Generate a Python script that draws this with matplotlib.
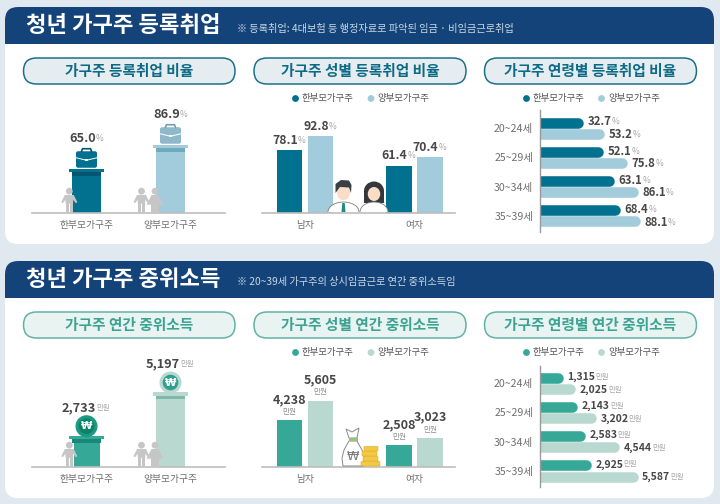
import matplotlib

matplotlib.use("Agg")

import matplotlib.pyplot as plt
from matplotlib.patches import Circle, Ellipse, FancyBboxPatch, Polygon, Rectangle

plt.rcParams["font.family"] = ["Noto Sans CJK KR", "DejaVu Sans"]

# ---- data ----
GROUPS = ["한부모가구주", "양부모가구주"]
GENDERS = ["남자", "여자"]
AGES = ["20~24세", "25~29세", "30~34세", "35~39세"]

rate_total = [65.0, 86.9]
rate_single_gender = [78.1, 61.4]
rate_double_gender = [92.8, 70.4]
rate_single_age = [32.7, 52.1, 63.1, 68.4]
rate_double_age = [53.2, 75.8, 86.1, 88.1]

income_total = [2733, 5197]
income_single_gender = [4238, 2508]
income_double_gender = [5605, 3023]
income_single_age = [1315, 2143, 2583, 2925]
income_double_age = [2025, 3202, 4544, 5587]

# ---- colours ----
BG = "#dfe9ef"
NAVY = "#14437a"
DARK_TEXT = "#474747"
GRAY_TEXT = "#6f6f6f"
UNIT_GRAY = "#a5a5a5"
BASE_LINE = "#bdbdbd"
PERSON = "#c6c6c6"

BLUE1, BLUE2 = "#02708f", "#a2cbdb"
BLUE1_D, BLUE2_D = "#04566f", "#6fa9bd"
GREEN1, GREEN2 = "#35a898", "#b9d9d0"
GREEN1_D, GREEN2_D = "#1a8877", "#82b8aa"

W, H = 720, 504
fig = plt.figure(figsize=(7.2, 5.04), dpi=100, facecolor=BG)

# pixel canvas for panels and pictures
bg = fig.add_axes([0, 0, 1, 1], zorder=0)
bg.set_xlim(0, W)
bg.set_ylim(H, 0)
bg.axis("off")
fg = fig.add_axes([0, 0, 1, 1], zorder=5)
fg.set_xlim(0, W)
fg.set_ylim(H, 0)
fg.axis("off")
fg.patch.set_alpha(0)


def rect(ax, x0, y0, x1, y1, color, **kw):
    ax.add_patch(Rectangle((x0, y0), x1 - x0, y1 - y0, fc=color, ec="none", **kw))


def round_box(ax, x0, y0, x1, y1, r, fc, ec="none", lw=0):
    ax.add_patch(FancyBboxPatch((x0 + r, y0 + r), x1 - x0 - 2 * r, y1 - y0 - 2 * r,
                                boxstyle=f"round,pad={r},rounding_size={r}",
                                fc=fc, ec=ec, lw=lw))


def panel(top, title, note):
    round_box(bg, 5, top, 714, top + 237, 13, "white")
    round_box(bg, 5, top, 714, top + 50, 13, NAVY)
    rect(bg, 5, top + 36, 714, top + 52, "white")
    rect(bg, 5, top + 20, 714, top + 36.5, NAVY)
    bg.text(25.5, top + 18, title, color="white", fontsize=16, fontweight="bold",
            va="center", ha="left")
    bg.text(237, top + 21.5, note, color="#c9d8e4", fontsize=7.35, va="center", ha="left")


def pill(x0, x1, y0, text, fc, ec, tc):
    round_box(bg, x0, y0, x1, y0 + 26, 13, fc, ec, 1.1)
    bg.text((x0 + x1) / 2, y0 + 12.6, text, color=tc, fontsize=10.6, fontweight="bold",
            ha="center", va="center")


def legend(y, dots, c1, c2):
    for x, c, label in zip(dots, (c1, c2), GROUPS):
        bg.add_patch(Circle((x, y), 3.4, fc=c, ec="none"))
        bg.text(x + 6.5, y - 0.3, label, color="#555555", fontsize=6.8, va="center", ha="left")


def px_axes(x0, y0, x1, y1):
    ax = fig.add_axes([x0 / W, 1 - y1 / H, (x1 - x0) / W, (y1 - y0) / H], zorder=2)
    ax.patch.set_alpha(0)
    for s in ax.spines.values():
        s.set_visible(False)
    ax.tick_params(length=0, labelsize=7, labelcolor=GRAY_TEXT, pad=5)
    return ax


def to_canvas(ax, x, y):
    return bg.transData.inverted().transform(ax.transData.transform((x, y)))


def value_label(ax, x, y, value, unit, dx=0, dy=0, ha="center", fs=9.2, ufs=None):
    # bold number, then a small gray unit right after it
    t = ax.annotate(value, (x, y), xytext=(dx, dy), textcoords="offset points", ha=ha,
                    va="center", fontsize=fs, fontweight="bold", color=DARK_TEXT,
                    annotation_clip=False, zorder=6)
    if unit:
        ax.annotate(unit, xy=(1, 0.5), xycoords=t, xytext=(0.1, 0), textcoords="offset points",
                    ha="left", va="center", fontsize=ufs or 6, color=UNIT_GRAY, zorder=6)
    return t


def person(cx, base, female=False):
    h = base - 24.7
    fg.add_patch(Circle((cx, h + 3.2), 3.4, fc=PERSON, ec="none"))
    if female:
        fg.add_patch(Polygon([(cx - 3.5, h + 7), (cx + 3.5, h + 7), (cx + 8.5, base - 8), (cx - 8.5, base - 8)],
                             fc=PERSON, ec="none"))
    else:
        fg.add_patch(Polygon([(cx - 4.5, h + 7), (cx + 4.5, h + 7), (cx + 8, base - 10.5), (cx + 6.5, base - 9.5),
                              (cx + 3.8, base - 13), (cx + 3.8, base - 9), (cx - 3.8, base - 9),
                              (cx - 3.8, base - 13), (cx - 6.5, base - 9.5), (cx - 8, base - 10.5)],
                             fc=PERSON, ec="none"))
    rect(fg, cx - 3.8, base - 10, cx - 0.4, base, PERSON)
    rect(fg, cx + 0.4, base - 10, cx + 3.8, base, PERSON)


def cap(cx, top, c_top, c_dark):
    rect(fg, cx - 17.5, top, cx + 17.5, top + 3.7, c_top)
    rect(fg, cx - 14.5, top + 3.7, cx + 14.5, top + 7, c_dark)


def briefcase(cx, bottom, color, dark):
    round_box(fg, cx - 10.5, bottom - 17.5, cx + 10.5, bottom - 1, 2, color)
    fg.plot([cx - 5, cx - 4, cx + 4, cx + 5], [bottom - 17.5, bottom - 20, bottom - 20, bottom - 17.5],
            color=dark, lw=1.2)
    fg.plot([cx - 10.5, cx, cx + 10.5], [bottom - 11, bottom - 8.5, bottom - 11], color="white", lw=0.7)
    fg.add_patch(Rectangle((cx - 1.2, bottom - 10), 2.4, 2.6, fc="white", ec="none"))


def coin(cx, cy, fill, ring):
    fg.add_patch(Circle((cx, cy), 11, fc=ring, ec="none"))
    fg.add_patch(Circle((cx, cy), 7.8, fc=fill, ec="none"))
    fg.text(cx, cy + 0.2, "₩", color="white", fontsize=7.5, fontweight="bold", ha="center", va="center",
            family="DejaVu Sans")


def shoulders(cx, base, width, height):
    # upper half only, cut at the base line
    e = Ellipse((cx, base), width, height * 2, fc="white", ec="#7d7d7d", lw=0.6)
    fg.add_patch(e)
    e.set_clip_path(Rectangle((cx - width, base - height - 1), 2 * width, height + 1, transform=fg.transData))


def total_chart(x0, x1, height, base, ylow, yhigh, values, colors, darks, bar_half):
    ax = px_axes(x0, base - height, x1, base)
    ax.set_ylim(ylow, yhigh)
    ax.set_xlim(x0, x1)
    centers = [86.5, 170.5]
    ax.bar(centers, [v - ylow for v in values], bottom=ylow, width=[2 * bar_half, 29], color=colors)
    ax.spines["bottom"].set_visible(True)
    ax.spines["bottom"].set_color(BASE_LINE)
    ax.spines["bottom"].set_linewidth(1.2)
    ax.set_xticks(centers, GROUPS)
    ax.set_yticks([])
    tops = []
    for c, v, col, dk in zip(centers, values, colors, darks):
        top = to_canvas(ax, c, v)[1]
        tops.append(top)
        cap(c, top, col, dk)
    return ax, centers, tops


def gender_chart(height, base, ylow, yhigh, single, double, c1, c2):
    ax = px_axes(262, base - height, 455, base)
    ax.set_xlim(262, 455)
    ax.set_ylim(ylow, yhigh)
    male, female = 305.0, 414.5
    ax.bar([male - 15.5, female - 15.5], [v - ylow for v in single], bottom=ylow, width=25.5, color=c1)
    ax.bar([male + 15.5, female + 15.5], [v - ylow for v in double], bottom=ylow, width=25.5, color=c2)
    ax.spines["bottom"].set_visible(True)
    ax.spines["bottom"].set_color(BASE_LINE)
    ax.spines["bottom"].set_linewidth(1.2)
    ax.set_xticks([male, female], GENDERS)
    ax.set_yticks([])
    return ax, male, female


def age_chart(y0, y1, first, xlow, xhigh, single, double, c1, c2, unit, fmt, fs, ufs):
    ax = px_axes(540.3, y0, 700, y1)
    step = 29.15
    ax.set_ylim((y1 - first) / step, (y0 - first) / step)
    ax.set_xlim(xlow, xhigh)
    off = 5.75 / step
    for i, (a, b) in enumerate(zip(single, double)):
        ax.plot([xlow - (xhigh - xlow), a], [i - off, i - off], color=c1, lw=7.6, solid_capstyle="round")
        ax.plot([xlow - (xhigh - xlow), b], [i + off, i + off], color=c2, lw=7.6, solid_capstyle="round")
        value_label(ax, a, i - off - 0.02, fmt(a), unit, dx=6.8, ha="left", fs=fs, ufs=ufs)
        value_label(ax, b, i + off + 0.02, fmt(b), unit, dx=6.8, ha="left", fs=fs, ufs=ufs)
    ax.spines["left"].set_visible(True)
    ax.spines["left"].set_color("#9a9a9a")
    ax.spines["left"].set_linewidth(1.0)
    ax.set_yticks(range(len(AGES)), AGES)
    ax.tick_params(axis="y", labelsize=7.6, pad=5)
    ax.set_xticks([])
    return ax


def pct(v):
    return f"{v:.1f}"


def won(v):
    return f"{v:,}"


# ---- top panel ----
panel(7, "청년 가구주 등록취업", "※ 등록취업: 4대보험 등 행정자료로 파악된 임금 · 비임금근로취업")
for x0, x1, t in [(23.5, 235, "가구주 등록취업 비율"), (254, 466, "가구주 성별 등록취업 비율"),
                  (484.5, 696.5, "가구주 연령별 등록취업 비율")]:
    pill(x0, x1, 58, t, "#e6edf1", "#1d6f8a", "#0d6a87")
legend(98.5, (295.5, 371), BLUE1, BLUE2)
legend(98.5, (526.5, 601.5), BLUE1, BLUE2)

ax, centers, tops = total_chart(32, 225, 102.7, 212.7, 24.9, 24.9 + 102.7 / 1.096, rate_total,
                                [BLUE1, BLUE2], [BLUE1_D, BLUE2_D], 14.5)
for c, v, top, col, dk in zip(centers, rate_total, tops, ["#02708f", "#8fb9cb"], [BLUE1_D, "#6f9fb3"]):
    briefcase(c, top, col, dk)
    value_label(fg, c - 4, top - 30, pct(v), "%", ha="center")
person(69.3, 212.7)
person(141.5, 212.7)
person(155, 212.7, female=True)

ax, male, female = gender_chart(92.7, 212.7, 11.7, 11.7 + 92.7 / 0.946, rate_single_gender, rate_double_gender,
                                BLUE1, BLUE2)
for c, a, b in zip((male, female), rate_single_gender, rate_double_gender):
    value_label(ax, c - 20, a, pct(a), "%", dy=7, fs=8.8)
    value_label(ax, c + 11, b, pct(b), "%", dy=7, fs=8.8)

# man and woman between the bars
shoulders(343.5, 212, 31, 10)
fg.add_patch(Polygon([(342.3, 203), (344.7, 203), (345.5, 212), (341.5, 212)], fc="#1d8a85", ec="none"))
fg.add_patch(Ellipse((343.5, 192.5), 13, 15.5, fc="#fbdcc4", ec="none"))
fg.add_patch(Polygon([(335.5, 193), (335.5, 184), (341, 180), (349, 180.5), (351.5, 185), (351, 193),
                      (349, 187.5), (340, 187)], fc="#3a3f45", ec="none"))
fg.add_patch(Ellipse((374, 191), 20, 19, fc="#34383d", ec="none"))
rect(fg, 364, 191, 384, 203, "#34383d")
shoulders(374, 212, 28, 10)
fg.add_patch(Ellipse((374, 194), 12.5, 14, fc="#fbdcc4", ec="none"))

age_chart(110, 232, 128.3, -4.65, -4.65 + 159.7 / 1.02, rate_single_age, rate_double_age, BLUE1, BLUE2,
          "%", pct, 8.2, 6)

# ---- bottom panel ----
panel(261, "청년 가구주 중위소득", "※ 20~39세 가구주의 상시임금근로 연간 중위소득임")
for x0, x1, t in [(23.5, 235, "가구주 연간 중위소득"), (254, 466, "가구주 성별 연간 중위소득"),
                  (484.5, 696.5, "가구주 연령별 연간 중위소득")]:
    pill(x0, x1, 312, t, "#e9f3f1", "#62b2a5", "#3aa392")
legend(352.5, (295.5, 371), GREEN1, GREEN2)
legend(352.5, (526.5, 601.5), GREEN1, GREEN2)

ax, centers, tops = total_chart(32, 225, 106.7, 466.7, 985, 985 + 106.7 / 0.01773, income_total,
                                [GREEN1, GREEN2], [GREEN1_D, GREEN2_D], 13)
for c, v, top, fill, ring in zip(centers, income_total, tops, ["#0c8268", "#2f9f8e"], ["#1a9a82", "#b9d9d0"]):
    coin(c, top - 9.5, fill, ring)
    value_label(fg, c - 7.5, top - 28, won(v), "만원", ha="center", ufs=5.3)
person(69.3, 466.7)
person(141.5, 466.7)
person(155, 466.7, female=True)

ax, male, female = gender_chart(106.7, 466.7, 1022, 1022 + 106.7 / 0.0144, income_single_gender,
                                income_double_gender, GREEN1, GREEN2)
for c, a, b in zip((male, female), income_single_gender, income_double_gender):
    for xc, v, in ((c - 15.5, a), (c + 15.5, b)):
        value_label(ax, xc, v, won(v), None, dy=15, fs=9)
        ax.annotate("만원", (xc, v), xytext=(0, 6), textcoords="offset points", ha="center", va="center",
                    fontsize=5.5, color="#8f8f8f", annotation_clip=False)

# money bag and coins
fg.add_patch(Polygon([(342, 458), (344, 450), (349, 441), (357, 441), (362, 450), (365, 458),
                      (364, 466), (343, 466)], fc="white", ec="#8a8a8a", lw=0.7))
fg.add_patch(Polygon([(346, 429), (352, 432), (359, 428), (357, 438), (349, 438)], fc="white", ec="#8a8a8a", lw=0.7))
rect(fg, 348.5, 438, 357.5, 441, "#9cc27a")
fg.text(352.5, 456, "₩", color="#777777", fontsize=9, ha="center", va="center", family="DejaVu Sans")
for k, (xa, xb) in enumerate([(361, 380), (363, 378), (362, 377), (364, 378)]):
    round_box(fg, xa, 461.5 - k * 5, xb, 466 - k * 5, 0.6, "#f4c93f", "#d9a92a", 0.4)

age_chart(365.7, 487.3, 383.3, 303, 303 + 159.7 / 0.01749, income_single_age, income_double_age,
          GREEN1, GREEN2, "만원", won, 7.5, 5.3)

fig.savefig("out.png", dpi=100, facecolor=BG)
